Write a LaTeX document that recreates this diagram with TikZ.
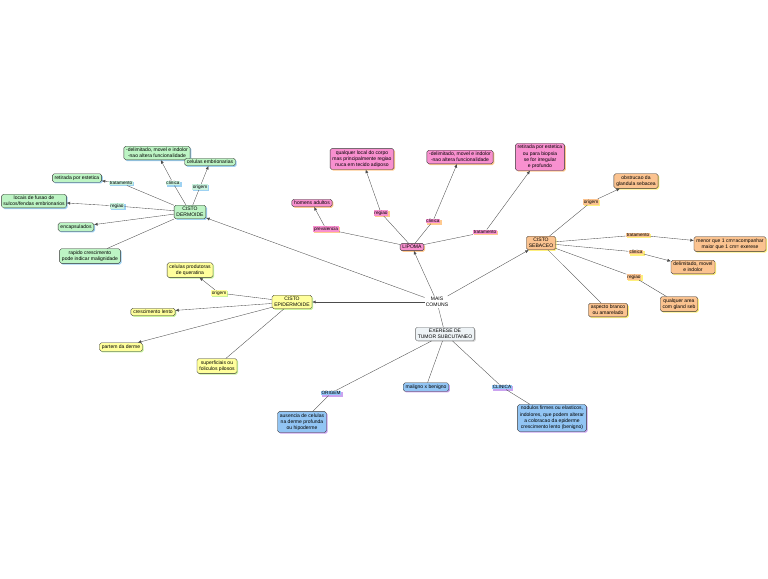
\documentclass[tikz,border=0pt]{standalone}
\usepackage{fontspec}
\setmainfont{Liberation Sans}
\usetikzlibrary{arrows.meta}
\usetikzlibrary{shadows}

\definecolor{verde}{HTML}{BDF4C4}
\definecolor{verdesomb}{HTML}{9ED2F2}
\definecolor{verderot}{HTML}{C9F2DE}
\definecolor{rosa}{HTML}{F890CF}
\definecolor{rosasomb}{HTML}{FFC98F}
\definecolor{laranja}{HTML}{FBC390}
\definecolor{laranjasomb}{HTML}{FFF07C}
\definecolor{amarelo}{HTML}{FFFF9C}
\definecolor{amarelosomb}{HTML}{C9F39C}
\definecolor{azul}{HTML}{92C5F4}
\definecolor{azulsomb}{HTML}{CBA4F0}
\definecolor{cinza}{HTML}{EEF3F6}

\tikzset{
  caixa/.style={draw=black!80, line width=0.3pt, rounded corners=1.5pt, align=center,
    inner xsep=2pt, inner ysep=1.6pt, font=\fontsize{4.3}{5.3}\selectfont},
  rotulo/.style={inner xsep=0.8pt, inner ysep=0.6pt, font=\fontsize{4}{5}\selectfont},
  somb/.style={drop shadow={shadow xshift=1pt, shadow yshift=-1pt, fill=#1, opacity=1}},
  cverde/.style={caixa, fill=verde, somb=verdesomb},
  crosa/.style={caixa, fill=rosa, somb=rosasomb},
  claranja/.style={caixa, fill=laranja, somb=laranjasomb},
  camarelo/.style={caixa, fill=amarelo, somb=amarelosomb},
  cazul/.style={caixa, fill=azul, somb=azulsomb},
  rverde/.style={rotulo, fill=verderot, somb=verdesomb},
  rrosa/.style={rotulo, fill=rosa, somb=rosasomb},
  rlaranja/.style={rotulo, fill=laranja, somb=laranjasomb},
  ramarelo/.style={rotulo, fill=amarelo, somb=amarelosomb},
  razul/.style={rotulo, fill=azul, somb=azulsomb},
  liga/.style={draw=black!70, line width=0.3pt},
  seta/.style={liga, -{Latex[length=3pt,width=2.6pt]}},
}

\begin{document}
\begin{tikzpicture}[x=0.03cm, y=-0.03cm]

\useasboundingbox (0,0) rectangle (768,578);

% centro
\node[caixa, fill=cinza, draw=black!60, somb=black!15] (exerese) at (445,334) {EXERESE DE\\TUMOR SUBCUTANEO};
\node[align=center, inner sep=0.8pt, font=\fontsize{4.3}{5.3}\selectfont] (mais) at (437,302) {MAIS\\COMUNS};

\node[crosa] (lipoma) at (412,247) {LIPOMA};
\node[claranja] (sebaceo) at (541,243) {CISTO\\SEBACEO};
\node[camarelo] (epidermoide) at (292,302) {CISTO\\EPIDERMOIDE};
\node[cverde] (dermoide) at (190,212) {CISTO\\DERMOIDE};

\draw[liga] (exerese) -- (mais);
\draw[seta] (mais) -- (lipoma);
\draw[seta] (mais) -- (sebaceo);
\draw[seta] (mais) -- (epidermoide);
\draw[seta] (mais) -- (dermoide);

% cisto dermoide
\node[cverde] (gclin) at (157,153) {-delimitado, movel e indolor\\-nao altera funcionalidade};
\node[cverde] (gorig) at (210,162) {celulas embrionarias};
\node[cverde] (gtrat) at (77,178) {retirada por estetica};
\node[cverde, inner xsep=1.5pt] (greg) at (34,201) {locais de fusao de\\sulcos/fendas embrionarios};
\node[cverde] (genc) at (76,227) {encapsulados};
\node[cverde] (grap) at (90,256) {rapido crescimento\\pode indicar malignidade};

\node[rverde] (lgclin) at (173,183) {clinica};
\node[rverde] (lgorig) at (200,187) {origem};
\node[rverde] (lgtrat) at (121,183) {tratamento};
\node[rverde] (lgreg) at (117,206) {regiao};

\draw[liga] (dermoide) -- (lgclin);
\draw[seta] (lgclin) -- (gclin);
\draw[liga] (dermoide) -- (lgorig);
\draw[seta] (lgorig) -- (gorig);
\draw[liga] (dermoide) -- (lgtrat);
\draw[seta] (lgtrat) -- (gtrat);
\draw[liga] (dermoide) -- (lgreg);
\draw[seta] (lgreg) -- (greg);
\draw[seta] (dermoide) -- (genc);
\draw[liga] (dermoide) -- (grap);

% cisto epidermoide
\node[camarelo] (yorig) at (190,270) {celulas produtoras\\de queratina};
\node[camarelo] (ycres) at (153,312) {crescimento lento};
\node[camarelo] (yder) at (121,347) {partem da derme};
\node[camarelo] (ysup) at (217,366) {superficiais ou\\foliculos pilosos};

\node[ramarelo] (lyorig) at (219,293) {origem};

\draw[liga] (epidermoide) -- (lyorig);
\draw[seta] (lyorig) -- (yorig);
\draw[seta] (epidermoide) -- (ycres);
\draw[seta] (epidermoide) -- (yder);
\draw[liga] (epidermoide) -- (ysup);

% lipoma
\node[crosa] (padul) at (312,203) {homens adultos};
\node[crosa] (preg) at (362,159) {qualquer local do corpo\\mas principalmente regiao\\nuca em tecido adiposo};
\node[crosa] (pclin) at (460,157) {-delimitado, movel e indolor\\-nao altera funcionalidade};
\node[crosa] (ptrat) at (540,157) {retirada por estetica\\ou para biopsia\\se for irregular\\e profundo};

\node[rrosa] (lpadul) at (326,229) {prevalencia};
\node[rrosa] (lpreg) at (381,213) {regiao};
\node[rrosa] (lpclin) at (433,221) {clinica};
\node[rrosa] (lptrat) at (485,232) {tratamento};

\draw[liga] (lipoma) -- (lpadul);
\draw[seta] (lpadul) -- (padul);
\draw[liga] (lipoma) -- (lpreg);
\draw[seta] (lpreg) -- (preg);
\draw[liga] (lipoma) -- (lpclin);
\draw[seta] (lpclin) -- (pclin);
\draw[liga] (lipoma) -- (lptrat);
\draw[seta] (lptrat) -- (ptrat);

% cisto sebaceo
\node[claranja] (oorig) at (636,181) {obstrucao da\\glandula sebacea};
\node[claranja] (otrat) at (730,244) {menor que 1 cm=acompanhar\\maior que 1 cm= exerese};
\node[claranja] (oclin) at (693,267) {delimitado, movel\\e indolor};
\node[claranja] (oreg) at (679,304) {qualquer area\\com gland seb};
\node[claranja] (oasp) at (608,310) {aspecto branco\\ou amarelado};

\node[rlaranja] (loorig) at (591,202) {origem};
\node[rlaranja] (lotrat) at (638,235) {tratamento};
\node[rlaranja] (loclin) at (636,252) {clinica};
\node[rlaranja] (loreg) at (634,277) {regiao};

\draw[liga] (sebaceo) -- (loorig);
\draw[seta] (loorig) -- (oorig);
\draw[liga] (sebaceo) -- (lotrat);
\draw[seta] (lotrat) -- (otrat);
\draw[liga] (sebaceo) -- (loclin);
\draw[seta] (loclin) -- (oclin);
\draw[liga] (sebaceo) -- (loreg);
\draw[liga] (loreg) -- (oreg);
\draw[liga] (sebaceo) -- (oasp);

% exerese
\node[cazul] (borig) at (302,422) {ausencia de celulas\\na derme profunda\\ou hipoderme};
\node[cazul] (bmal) at (426,387) {maligno x benigno};
\node[cazul] (bclin) at (552,418) {nodulos firmes ou elasticos,\\indolores, que podem alterar\\a coloracao da epiderme\\crescimento lento (benigno)};

\node[razul] (lborig) at (331,393) {ORIGEM};
\node[razul] (lbclin) at (502,387) {CLINICA};

\draw[liga] (exerese) -- (lborig);
\draw[liga] (lborig) -- (borig);
\draw[liga] (exerese) -- (bmal);
\draw[liga] (exerese) -- (lbclin);
\draw[liga] (lbclin) -- (bclin);

\end{tikzpicture}
\end{document}
